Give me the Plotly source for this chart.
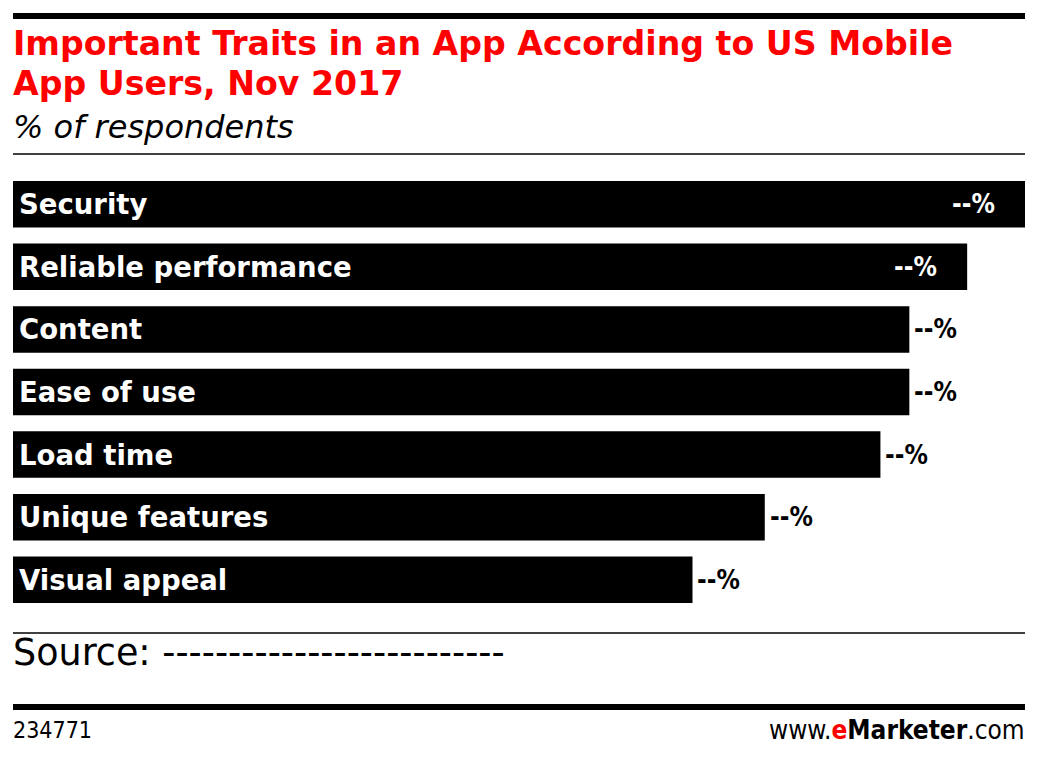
import plotly.graph_objects as go

# data (values are hidden in the original, shown as --%)
traits = ["Security", "Reliable performance", "Content", "Ease of use",
          "Load time", "Unique features", "Visual appeal"]
pct = [70, 66, 62, 62, 60, 52, 47]
value_labels = ["--%", "--%", "--%", "--%", "--%", "--%", "--%"]
label_inside = [True, True, False, False, False, False, False]

title_lines = ["Important Traits in an App According to US Mobile",
               "App Users, Nov 2017"]
subtitle = "% of respondents"
source = "Source: --------------------------"
chart_id = "234771"

# the page body has an 8px margin, so the figure is shrunk by that much
OFF = 8
W, H = 1038 - OFF, 757 - OFF
TOP, BOTTOM = 173, 611       # plot area rows in window pixels
LEFT, RIGHT = 13, 1025       # plot area columns in window pixels


def py(px):
    # window pixel row -> paper y
    return (BOTTOM - px) / (BOTTOM - TOP)


fig = go.Figure()
fig.add_trace(go.Bar(
    x=pct, y=traits, orientation="h",
    marker=dict(color="black", line=dict(width=0)),
    hoverinfo="skip",
))

annotations = []
# category names inside the bars
for t in traits:
    annotations.append(dict(
        x=0, y=t, xref="x", yref="y", text=t, showarrow=False,
        xanchor="left", yanchor="middle", xshift=4,
        font=dict(family="DejaVu Sans", size=27.5, color="white", weight="bold"),
    ))
# value labels
for t, v, lab, inside in zip(traits, pct, value_labels, label_inside):
    annotations.append(dict(
        x=v, y=t, xref="x", yref="y", text=lab, showarrow=False,
        xanchor="right" if inside else "left", yanchor="middle",
        xshift=-28 if inside else 3,
        font=dict(family="DejaVu Sans Condensed", size=26,
                  color="white" if inside else "black", weight="bold"),
    ))

# header / footer texts
annotations += [
    dict(x=0, y=py(43.5), xref="paper", yref="paper", text=title_lines[0],
         showarrow=False, xanchor="left", yanchor="middle", xshift=-2,
         font=dict(family="DejaVu Sans", size=33.2, color="#ff0000", weight="bold")),
    dict(x=0, y=py(83.5), xref="paper", yref="paper", text=title_lines[1],
         showarrow=False, xanchor="left", yanchor="middle", xshift=-2,
         font=dict(family="DejaVu Sans", size=33.2, color="#ff0000", weight="bold")),
    dict(x=0, y=py(127), xref="paper", yref="paper", text=subtitle,
         showarrow=False, xanchor="left", yanchor="middle", xshift=-2,
         font=dict(family="DejaVu Sans", size=32, color="black", style="italic")),
    dict(x=0, y=py(652), xref="paper", yref="paper", text=source,
         showarrow=False, xanchor="left", yanchor="middle", xshift=-2,
         font=dict(family="DejaVu Sans", size=36.5, color="black")),
    dict(x=0, y=py(730), xref="paper", yref="paper", text=chart_id,
         showarrow=False, xanchor="left", yanchor="middle", xshift=-2,
         font=dict(family="DejaVu Sans Condensed", size=23, color="black")),
    dict(x=1, y=py(730), xref="paper", yref="paper",
         text="www.<b><span style='color:#ff0000'>e</span>Marketer</b>.com",
         showarrow=False, xanchor="right", yanchor="middle", xshift=2,
         font=dict(family="DejaVu Sans Condensed", size=26, color="black")),
]

shapes = [
    dict(type="rect", xref="paper", yref="paper", x0=0, x1=1,
         y0=py(19), y1=py(13), fillcolor="black", line=dict(width=0)),
    dict(type="line", xref="paper", yref="paper", x0=0, x1=1,
         y0=py(154), y1=py(154), line=dict(color="black", width=1.5)),
    dict(type="line", xref="paper", yref="paper", x0=0, x1=1,
         y0=py(633), y1=py(633), line=dict(color="black", width=1.5)),
    dict(type="rect", xref="paper", yref="paper", x0=0, x1=1,
         y0=py(710), y1=py(704), fillcolor="black", line=dict(width=0)),
]

fig.update_layout(
    width=W, height=H,
    margin=dict(l=LEFT - OFF, r=1038 - RIGHT, t=TOP - OFF, b=757 - BOTTOM, pad=0),
    paper_bgcolor="white", plot_bgcolor="white",
    showlegend=False, bargap=0.257,
    xaxis=dict(range=[0, max(pct)], visible=False, fixedrange=True),
    yaxis=dict(autorange="reversed", visible=False, fixedrange=True),
    annotations=annotations, shapes=shapes,
)

fig.write_html("out.html")
